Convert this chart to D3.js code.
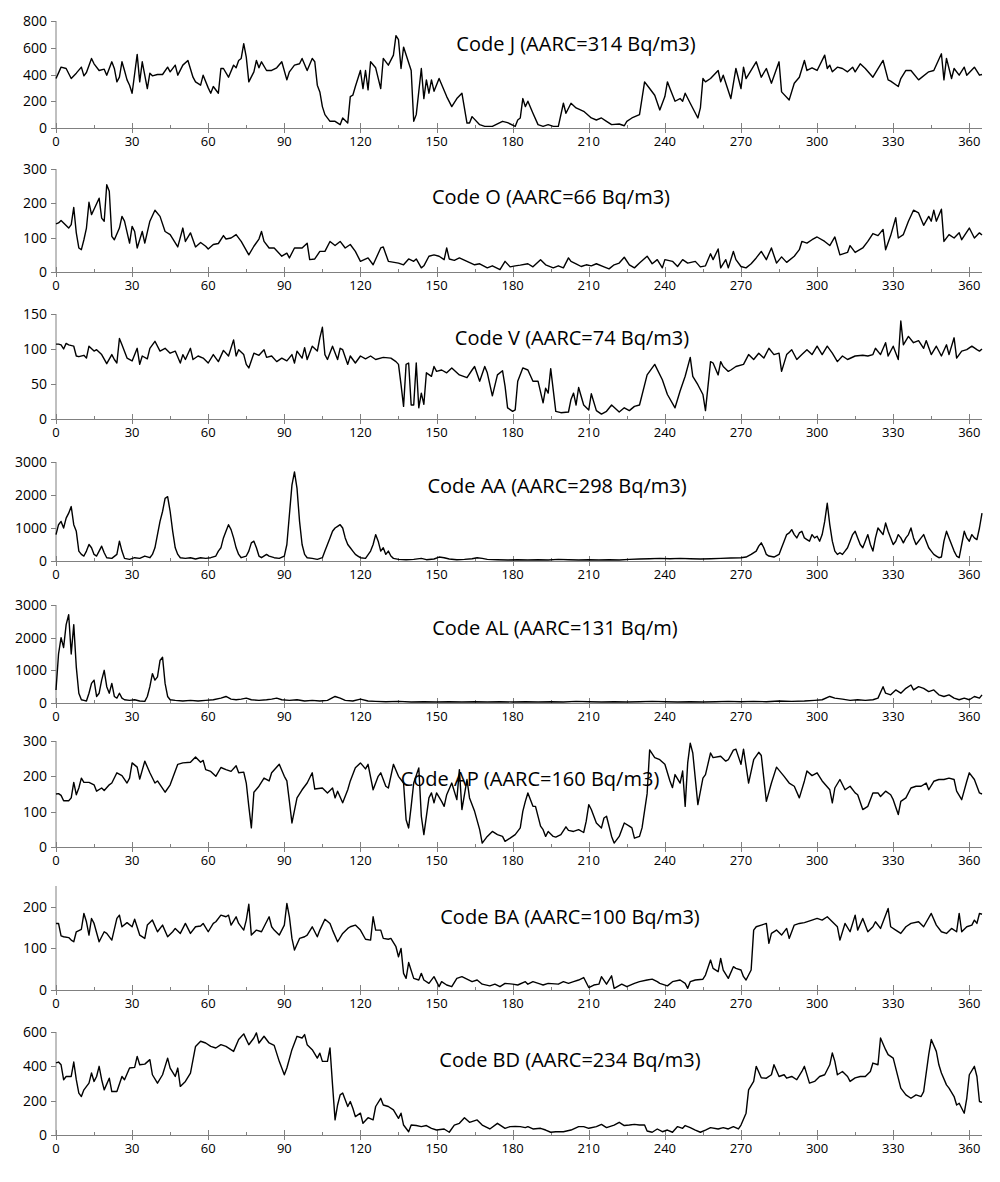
<!DOCTYPE html>
<html>
<head>
<meta charset="utf-8">
<script src="https://cdn.jsdelivr.net/npm/d3@7"></script>
<style>
  body { margin: 0; background: #fff; }
  svg text { font-family: "Open Sans", "Noto Sans", sans-serif; fill: #000; }
</style>
</head>
<body>
<svg id="chart" width="1000" height="1182"></svg>
<script>
// daily radon series as [day, value] pairs

var titles = [
  "Code J (AARC=314 Bq/m3)",
  "Code O (AARC=66 Bq/m3)",
  "Code V (AARC=74 Bq/m3)",
  "Code AA (AARC=298 Bq/m3)",
  "Code AL (AARC=131 Bq/m)",
  "Code AP (AARC=160 Bq/m3)",
  "Code BA (AARC=100 Bq/m3)",
  "Code BD (AARC=234 Bq/m3)"
];
var yMax = [800, 300, 150, 3000, 3000, 300, 250, 600];
var yStep = [200, 100, 50, 1000, 1000, 100, 100, 200];
var xTicks = [0, 30, 60, 90, 120, 150, 180, 210, 240, 270, 300, 330, 360];

var codeJ = [[0,370],[1,412],[2,455],[4,445],[6,370],[8,410],[10,455],[11,390],[12,415],[14,520],[15,480],[17,430],[19,440],[20,395],[22,495],[23,445],[24,345],[25,380],[26,495],[27,430],[28,360],[29,320],[30,260],[32,550],[33,345],[34,495],[36,295],[37,410],[38,390],[40,400],[42,400],[44,455],[45,420],[47,470],[48,395],[50,470],[52,505],[54,380],[55,345],[57,320],[58,395],[60,300],[61,260],[62,310],[64,260],[65,445],[66,445],[68,380],[70,470],[71,450],[72,505],[73,520],[74,630],[75,530],[76,345],[78,420],[79,505],[80,450],[81,495],[83,430],[85,430],[87,450],[89,495],[91,360],[92,420],[94,470],[96,480],[97,520],[99,430],[101,520],[102,495],[103,320],[104,270],[105,160],[106,100],[108,50],[110,50],[112,25],[113,75],[115,37],[116,235],[117,245],[118,310],[120,430],[121,295],[122,430],[123,285],[124,495],[126,450],[128,295],[129,520],[131,470],[133,545],[134,690],[135,660],[136,445],[137,605],[140,430],[141,50],[142,100],[144,445],[145,220],[146,360],[147,260],[148,360],[149,275],[151,370],[154,235],[156,160],[158,220],[160,260],[162,37],[163,37],[164,85],[167,25],[169,12],[172,12],[176,50],[178,40],[181,12],[182,60],[183,75],[184,220],[185,160],[186,200],[188,110],[190,25],[192,12],[194,25],[196,12],[198,12],[200,185],[201,110],[203,185],[205,150],[208,125],[211,75],[213,60],[215,75],[217,50],[219,25],[222,30],[224,17],[225,50],[227,75],[230,100],[232,345],[234,295],[236,245],[238,135],[240,235],[241,345],[242,295],[244,200],[246,220],[247,200],[248,260],[250,185],[253,75],[254,150],[255,370],[256,345],[258,370],[261,430],[262,345],[263,395],[266,220],[268,445],[270,295],[271,455],[272,370],[276,495],[278,380],[280,445],[282,335],[285,495],[286,270],[289,210],[291,335],[293,380],[295,505],[296,430],[298,450],[300,430],[303,545],[304,445],[305,470],[306,420],[308,455],[310,445],[312,420],[314,455],[315,420],[317,480],[319,445],[322,380],[326,505],[328,360],[329,350],[332,310],[333,370],[335,430],[337,430],[340,360],[344,420],[346,430],[349,555],[350,360],[351,520],[353,370],[354,445],[356,395],[358,455],[359,395],[362,455],[364,395],[365,400]];

var codeO = [[0,140],[1,143],[2,150],[3,143],[5,128],[6,138],[7,188],[8,114],[9,70],[10,65],[11,94],[12,128],[13,203],[14,167],[15,183],[17,215],[18,157],[19,148],[20,254],[21,235],[22,104],[23,94],[25,128],[26,162],[27,148],[29,84],[30,133],[31,118],[32,70],[34,118],[35,84],[37,148],[39,180],[41,162],[43,118],[45,109],[48,73],[50,128],[51,89],[53,114],[55,73],[57,86],[59,75],[60,67],[62,80],[64,83],[66,106],[67,96],[69,99],[71,109],[73,89],[76,50],[78,75],[80,96],[81,118],[82,89],[84,70],[86,70],[89,46],[91,55],[92,41],[94,70],[97,70],[99,84],[100,36],[102,38],[104,60],[106,60],[108,89],[110,77],[112,89],[114,70],[116,80],[118,60],[120,31],[123,41],[125,21],[128,70],[129,73],[131,31],[135,26],[137,21],[139,38],[141,31],[142,38],[144,12],[145,18],[147,46],[149,50],[151,46],[153,36],[154,70],[155,38],[157,34],[159,41],[162,31],[165,21],[167,24],[170,12],[172,18],[175,7],[177,31],[179,15],[181,18],[183,20],[186,24],[188,15],[191,36],[193,21],[196,12],[198,18],[200,12],[202,41],[203,31],[205,24],[207,16],[209,21],[211,18],[213,24],[216,15],[218,9],[220,21],[222,26],[224,43],[226,21],[228,12],[230,26],[233,46],[235,24],[237,36],[239,12],[240,36],[243,31],[245,16],[247,36],[249,26],[252,31],[254,15],[256,18],[258,53],[259,36],[261,67],[262,12],[264,36],[265,12],[267,60],[268,36],[270,16],[272,12],[274,24],[276,41],[278,60],[280,36],[281,53],[282,70],[284,26],[286,44],[288,28],[291,46],[293,65],[294,89],[296,84],[298,94],[300,102],[303,89],[305,77],[307,102],[309,50],[312,57],[313,77],[315,57],[318,70],[320,89],[322,112],[324,106],[326,124],[327,65],[329,106],[331,158],[332,99],[334,109],[336,148],[338,180],[340,172],[342,136],[344,162],[345,148],[346,180],[347,148],[349,183],[350,89],[352,109],[354,99],[356,114],[357,94],[360,128],[362,99],[364,114],[365,108]];

var codeV = [[0,107],[1,107],[2,106],[3,100],[4,108],[5,106],[7,104],[8,90],[9,89],[11,91],[12,87],[13,104],[15,97],[16,99],[18,92],[20,79],[22,92],[23,85],[24,80],[25,115],[26,106],[28,87],[30,83],[32,101],[33,78],[34,90],[36,86],[37,101],[39,111],[41,97],[43,101],[45,94],[47,97],[49,80],[50,92],[51,85],[53,101],[54,85],[56,90],[58,87],[60,80],[62,92],[64,82],[66,98],[68,90],[70,113],[71,90],[72,99],[74,92],[75,78],[76,73],[78,94],[80,91],[82,99],[83,88],[85,90],[87,82],[89,87],[91,83],[93,92],[94,80],[95,97],[97,87],[98,102],[99,85],[101,104],[103,97],[104,116],[105,131],[106,92],[107,85],[109,104],[111,85],[112,101],[113,99],[115,78],[116,90],[118,80],[120,90],[122,86],[124,90],[126,85],[129,88],[132,87],[134,82],[135,78],[136,49],[137,18],[138,78],[139,80],[140,20],[141,20],[142,80],[143,16],[144,37],[145,21],[146,66],[148,61],[149,75],[150,68],[152,70],[154,66],[156,73],[159,63],[162,59],[164,70],[165,75],[167,54],[169,75],[170,66],[172,33],[174,63],[176,69],[177,47],[178,16],[180,11],[181,13],[182,54],[184,73],[186,70],[188,54],[190,54],[192,23],[193,44],[194,37],[195,72],[197,11],[199,9],[202,10],[203,28],[204,37],[205,20],[206,45],[208,20],[210,13],[211,36],[213,12],[215,7],[217,11],[219,20],[222,10],[224,16],[226,12],[228,18],[230,20],[233,63],[236,78],[239,56],[241,35],[244,16],[246,40],[248,61],[250,88],[251,61],[253,49],[255,35],[256,12],[258,82],[259,80],[261,63],[262,82],[263,75],[265,68],[266,70],[268,75],[271,78],[273,92],[275,85],[277,94],[279,87],[281,101],[283,92],[285,94],[286,68],[288,92],[290,99],[292,85],[294,92],[296,99],[298,92],[300,104],[302,92],[304,104],[306,94],[308,82],[310,90],[312,85],[315,90],[318,91],[320,90],[322,92],[323,101],[325,92],[327,109],[328,90],[330,104],[332,85],[333,140],[334,106],[336,118],[338,109],[340,112],[342,101],[343,112],[345,92],[347,104],[349,90],[351,106],[352,92],[354,116],[355,87],[357,97],[359,99],[361,104],[363,99],[364,97],[365,100]];

var codeAA = [[0,800],[1,1100],[2,1200],[3,1000],[4,1300],[5,1450],[6,1650],[7,1100],[8,900],[9,300],[10,200],[11,150],[12,300],[13,500],[14,400],[15,200],[16,150],[17,300],[18,450],[19,250],[20,100],[22,80],[24,200],[25,600],[26,300],[27,80],[29,50],[31,100],[33,80],[35,150],[37,100],[38,200],[39,400],[40,800],[41,1200],[42,1500],[43,1900],[44,1950],[45,1500],[46,900],[47,400],[48,200],[49,100],[51,80],[53,100],[55,60],[57,100],[59,80],[61,100],[63,150],[64,300],[65,400],[66,700],[67,900],[68,1100],[69,950],[70,700],[71,400],[72,200],[73,100],[75,150],[76,300],[77,550],[78,600],[79,400],[80,150],[81,100],[83,200],[84,150],[86,100],[88,80],[90,150],[91,500],[92,1400],[93,2300],[94,2700],[95,2200],[96,1200],[97,500],[98,200],[99,100],[101,80],[103,50],[105,100],[106,300],[107,500],[108,700],[109,900],[110,1000],[111,1050],[112,1100],[113,1000],[114,700],[115,500],[116,400],[117,300],[118,200],[119,150],[120,100],[122,80],[124,300],[125,500],[126,800],[127,600],[128,300],[129,400],[130,200],[131,300],[132,150],[133,80],[135,50],[138,40],[141,50],[144,80],[146,40],[149,60],[151,120],[153,100],[155,60],[158,40],[161,50],[164,70],[166,100],[168,80],[170,50],[174,40],[178,30],[182,40],[186,30],[190,40],[194,30],[198,50],[202,40],[206,30],[210,40],[214,30],[218,40],[222,30],[226,50],[230,60],[234,70],[238,80],[242,70],[246,80],[250,70],[254,60],[258,70],[262,80],[266,90],[270,100],[272,120],[274,200],[276,300],[277,450],[278,550],[279,400],[280,200],[281,150],[283,120],[285,200],[286,400],[287,600],[288,800],[289,850],[290,950],[291,800],[292,700],[293,850],[294,900],[295,700],[296,650],[297,600],[298,800],[299,700],[300,750],[301,600],[302,800],[303,1200],[304,1750],[305,1100],[306,600],[307,300],[308,200],[309,250],[310,200],[311,300],[312,400],[313,600],[314,800],[315,900],[316,700],[317,500],[318,400],[319,600],[320,800],[321,500],[322,300],[323,700],[324,1000],[325,900],[326,800],[327,1150],[328,900],[329,700],[330,500],[331,600],[332,800],[333,700],[334,550],[335,700],[336,800],[337,1000],[338,700],[339,500],[340,600],[341,700],[342,800],[343,600],[344,400],[345,300],[346,200],[347,150],[348,100],[349,120],[350,600],[351,900],[352,700],[353,500],[354,300],[355,150],[356,100],[357,500],[358,900],[359,700],[360,600],[361,800],[362,700],[363,650],[364,1000],[365,1450]];

var codeAL = [[0,400],[1,1500],[2,2000],[3,1700],[4,2400],[5,2700],[6,1500],[7,2400],[8,1100],[9,300],[10,100],[11,80],[12,60],[13,300],[14,600],[15,700],[16,200],[17,300],[18,700],[19,1000],[20,500],[21,300],[22,600],[23,200],[24,150],[25,300],[26,150],[27,100],[29,80],[31,100],[33,60],[35,50],[36,200],[37,500],[38,900],[39,700],[40,800],[41,1300],[42,1400],[43,600],[44,200],[45,100],[47,80],[50,60],[53,80],[56,60],[59,80],[62,100],[65,150],[67,200],[69,120],[71,100],[73,120],[75,150],[77,100],[80,80],[83,100],[85,120],[87,150],[89,100],[92,80],[95,100],[98,60],[101,80],[104,60],[107,80],[110,200],[112,150],[114,80],[117,60],[120,120],[123,60],[126,50],[130,40],[135,50],[140,30],[145,40],[150,30],[155,40],[160,30],[165,40],[170,30],[175,40],[180,30],[185,40],[190,30],[195,40],[200,30],[205,50],[210,40],[215,30],[220,40],[225,30],[230,40],[235,50],[240,40],[245,30],[250,40],[255,30],[260,40],[265,50],[270,40],[275,50],[280,40],[285,60],[290,50],[295,60],[299,80],[302,100],[305,200],[307,150],[310,120],[313,80],[316,100],[319,80],[322,100],[324,150],[326,500],[327,300],[329,250],[331,400],[333,300],[335,450],[337,550],[338,400],[340,500],[342,450],[344,350],[346,400],[348,250],[350,200],[352,250],[354,150],[356,100],[358,150],[360,100],[362,200],[364,150],[365,250]];

var codeAP = [[0,150],[1,151],[2,146],[3,131],[5,131],[6,139],[7,183],[8,148],[9,167],[10,195],[11,183],[13,183],[15,176],[16,158],[18,167],[19,160],[21,176],[22,181],[24,210],[26,202],[28,181],[29,195],[30,238],[32,226],[33,192],[35,243],[37,210],[39,181],[40,187],[43,155],[45,176],[48,234],[50,238],[53,240],[55,255],[57,240],[58,245],[59,219],[61,214],[63,200],[65,225],[67,219],[69,214],[71,230],[72,210],[74,212],[75,181],[76,115],[77,54],[78,155],[80,172],[82,195],[84,187],[85,210],[88,234],[90,200],[91,187],[92,129],[93,68],[95,139],[97,162],[99,181],[101,210],[102,164],[105,167],[107,153],[109,167],[110,139],[111,158],[113,125],[115,162],[116,187],[118,224],[120,238],[122,221],[123,234],[125,162],[127,200],[128,210],[130,172],[131,167],[133,234],[135,200],[137,181],[138,77],[139,54],[140,115],[141,181],[143,224],[144,87],[145,35],[147,139],[148,153],[149,125],[150,153],[152,129],[153,115],[154,148],[156,181],[158,134],[159,219],[160,106],[162,191],[163,139],[165,101],[167,49],[168,11],[170,30],[172,44],[174,35],[176,30],[177,16],[179,25],[181,35],[183,54],[184,101],[185,129],[186,153],[188,115],[189,115],[191,59],[192,49],[193,30],[194,44],[196,30],[197,28],[199,35],[201,57],[202,47],[204,44],[206,49],[208,41],[209,73],[210,120],[211,106],[213,68],[215,54],[216,82],[217,87],[219,30],[220,11],[222,30],[224,68],[226,59],[227,54],[228,25],[230,30],[231,54],[233,151],[234,275],[236,253],[238,247],[240,234],[242,187],[243,168],[244,205],[246,181],[247,215],[248,115],[249,238],[250,294],[251,266],[253,120],[255,195],[256,205],[258,266],[259,253],[262,257],[264,243],[265,247],[267,274],[268,277],[270,234],[271,277],[273,181],[275,247],[277,268],[278,259],[280,129],[282,181],[284,226],[287,200],[289,181],[291,172],[293,139],[295,187],[296,215],[298,202],[300,210],[302,187],[305,162],[306,125],[307,167],[309,191],[311,162],[313,172],[315,153],[316,148],[318,106],[320,115],[322,153],[324,153],[325,143],[327,158],[329,148],[330,134],[332,92],[333,129],[335,139],[337,167],[339,172],[341,172],[343,181],[344,162],[346,186],[348,191],[350,191],[352,195],[354,191],[355,158],[357,134],[359,186],[360,210],[362,191],[364,153],[365,150]];

var codeBA = [[0,160],[1,160],[2,130],[3,128],[5,126],[6,120],[7,116],[8,140],[10,146],[11,184],[12,164],[13,132],[14,172],[15,160],[17,116],[19,140],[20,136],[22,120],[24,172],[25,180],[26,152],[28,162],[30,152],[31,170],[33,132],[35,124],[36,156],[38,168],[40,140],[42,156],[44,128],[46,140],[47,148],[49,136],[51,160],[53,136],[55,152],[57,154],[58,160],[60,140],[62,160],[63,164],[65,180],[67,176],[68,180],[69,156],[71,176],[72,160],[74,144],[75,168],[76,206],[77,132],[79,144],[81,140],[82,152],[84,176],[85,152],[86,144],[88,132],[90,156],[91,208],[92,176],[93,124],[94,96],[96,124],[98,128],[99,132],[101,152],[103,128],[104,144],[106,170],[108,160],[109,144],[111,116],[113,136],[115,148],[116,152],[118,156],[120,144],[122,122],[124,120],[125,176],[126,144],[128,144],[129,124],[131,122],[132,124],[134,104],[135,80],[136,100],[137,40],[138,28],[139,66],[141,28],[143,24],[144,40],[145,24],[147,16],[149,32],[150,20],[151,8],[152,20],[154,12],[156,8],[158,28],[160,32],[162,26],[164,20],[166,24],[168,14],[171,10],[173,14],[175,8],[177,16],[180,14],[182,12],[185,20],[186,14],[188,20],[191,14],[192,12],[194,16],[198,14],[200,20],[202,16],[204,20],[206,24],[208,30],[210,6],[212,12],[214,14],[215,32],[217,14],[219,34],[220,4],[223,14],[225,8],[228,16],[230,20],[233,24],[235,26],[237,20],[238,16],[241,10],[243,20],[246,24],[248,16],[249,4],[250,20],[252,24],[255,26],[256,36],[258,72],[259,52],[261,44],[262,76],[263,48],[265,28],[267,56],[268,52],[270,48],[271,32],[272,24],[274,48],[275,144],[276,152],[278,156],[280,160],[281,112],[282,136],[284,144],[286,132],[288,148],[289,124],[291,156],[293,160],[295,162],[298,168],[300,172],[302,168],[304,176],[306,164],[308,152],[309,120],[311,160],[313,140],[315,180],[316,144],[318,172],[320,140],[322,152],[323,164],[325,148],[328,196],[329,152],[331,144],[333,136],[335,152],[337,160],[340,164],[342,152],[345,184],[347,156],[349,140],[351,136],[353,148],[355,140],[356,184],[357,140],[359,152],[361,156],[362,168],[363,160],[364,184],[365,182]];

var codeBD = [[0,420],[1,425],[2,409],[3,322],[4,341],[6,341],[7,425],[8,322],[9,244],[10,224],[11,263],[13,302],[14,361],[15,312],[16,341],[17,400],[18,322],[19,263],[21,331],[22,253],[24,253],[26,341],[27,322],[29,390],[31,394],[32,458],[33,409],[35,413],[37,439],[38,351],[40,302],[42,351],[44,448],[45,390],[47,341],[48,390],[49,283],[51,312],[53,361],[55,516],[57,546],[59,536],[61,516],[63,507],[65,526],[67,516],[70,487],[72,556],[74,589],[76,526],[78,565],[79,595],[80,536],[82,575],[84,536],[86,522],[88,429],[90,351],[91,390],[93,497],[95,575],[97,565],[98,585],[99,526],[101,497],[103,448],[104,477],[105,429],[107,429],[108,507],[109,292],[110,88],[111,175],[112,234],[113,244],[115,166],[116,195],[117,156],[118,107],[120,127],[121,68],[123,101],[125,88],[126,166],[128,214],[129,175],[131,166],[133,146],[135,97],[136,127],[137,58],[139,19],[140,58],[142,55],[144,49],[146,55],[148,39],[150,29],[153,35],[155,16],[157,58],[159,68],[161,101],[163,74],[166,88],[168,58],[171,35],[174,68],[177,39],[179,49],[181,50],[183,49],[185,43],[186,49],[188,35],[191,39],[193,29],[195,16],[197,19],[200,19],[203,29],[206,49],[208,49],[210,39],[213,49],[215,62],[217,43],[220,58],[222,74],[224,55],[226,58],[228,62],[230,58],[232,58],[233,23],[235,16],[237,35],[239,19],[241,29],[243,16],[245,49],[247,39],[248,55],[250,43],[252,29],[254,16],[256,29],[258,43],[261,35],[263,43],[265,35],[267,49],[269,35],[270,58],[272,127],[273,263],[275,312],[276,400],[278,333],[280,331],[282,351],[283,409],[285,341],[287,351],[288,331],[290,341],[292,322],[294,370],[295,400],[297,302],[299,312],[301,341],[303,351],[305,409],[306,478],[307,429],[308,351],[310,370],[312,341],[313,312],[315,333],[317,341],[319,341],[321,370],[322,419],[324,409],[325,565],[327,497],[328,468],[330,448],[332,331],[333,273],[335,234],[337,214],[339,234],[341,224],[342,253],[344,468],[345,556],[347,487],[348,409],[349,361],[351,292],[352,273],[354,224],[355,175],[356,185],[358,127],[359,214],[360,351],[362,400],[363,341],[364,195],[365,190]];

var series = [codeJ, codeO, codeV, codeAA, codeAL, codeAP, codeBA, codeBD];

// panel layout (pixel positions of each plot area and its title)
var layout = [
  { top: 21,   bottom: 128,  tx: 576, ty: 51 },
  { top: 169,  bottom: 272,  tx: 551, ty: 204 },
  { top: 314,  bottom: 419,  tx: 572, ty: 345 },
  { top: 462,  bottom: 561,  tx: 557, ty: 493 },
  { top: 605,  bottom: 703,  tx: 555, ty: 635 },
  { top: 741,  bottom: 847,  tx: 530, ty: 786 },
  { top: 886,  bottom: 990,  tx: 570, ty: 924 },
  { top: 1032, bottom: 1135, tx: 570, ty: 1067 }
];

var left = 56, right = 982;
var axisColor = "#808080";
var svg = d3.select("#chart");
var x = d3.scaleLinear().domain([0, 365]).range([left, right]);

series.forEach(function(data, i) {
  var L = layout[i];
  var y = d3.scaleLinear().domain([0, yMax[i]]).range([L.bottom, L.top]);
  var g = svg.append("g");

  // y axis
  var yt = d3.range(0, yMax[i] + 1, yStep[i]);
  g.append("line")
    .attr("x1", left).attr("x2", left)
    .attr("y1", L.top).attr("y2", L.bottom)
    .attr("stroke", axisColor);
  g.selectAll(".yt").data(yt).enter().append("line")
    .attr("x1", left - 5).attr("x2", left)
    .attr("y1", d => Math.round(y(d)) + 0.5).attr("y2", d => Math.round(y(d)) + 0.5)
    .attr("stroke", axisColor);
  g.selectAll(".yl").data(yt).enter().append("text")
    .attr("x", left - 9)
    .attr("y", d => y(d) + 5)
    .attr("text-anchor", "end")
    .style("font-size", "14px")
    .text(d => d);

  // x axis
  g.append("line")
    .attr("x1", left).attr("x2", right)
    .attr("y1", L.bottom + 0.5).attr("y2", L.bottom + 0.5)
    .attr("stroke", axisColor);
  g.selectAll(".xt").data(xTicks).enter().append("line")
    .attr("x1", d => Math.round(x(d)) + 0.5).attr("x2", d => Math.round(x(d)) + 0.5)
    .attr("y1", L.bottom - 5).attr("y2", L.bottom + 5)
    .attr("stroke", axisColor);
  g.selectAll(".xm").data(xTicks.slice(0, -1).map(d => d + 15)).enter().append("line")
    .attr("x1", d => Math.round(x(d)) + 0.5).attr("x2", d => Math.round(x(d)) + 0.5)
    .attr("y1", L.bottom - 3).attr("y2", L.bottom)
    .attr("stroke", axisColor);
  g.selectAll(".xl").data(xTicks).enter().append("text")
    .attr("x", d => x(d))
    .attr("y", L.bottom + 18)
    .attr("text-anchor", "middle")
    .style("font-size", "13px")
    .text(d => d);

  // series line
  var line = d3.line().x(d => x(d[0])).y(d => y(d[1]));
  g.append("path")
    .datum(data)
    .attr("d", line)
    .attr("fill", "none")
    .attr("stroke", "#000")
    .attr("stroke-width", 1.4)
    .attr("stroke-linejoin", "round");

  g.append("text")
    .attr("x", L.tx)
    .attr("y", L.ty)
    .attr("text-anchor", "middle")
    .style("font-size", "20px")
    .text(titles[i]);
});
</script>
</body>
</html>
